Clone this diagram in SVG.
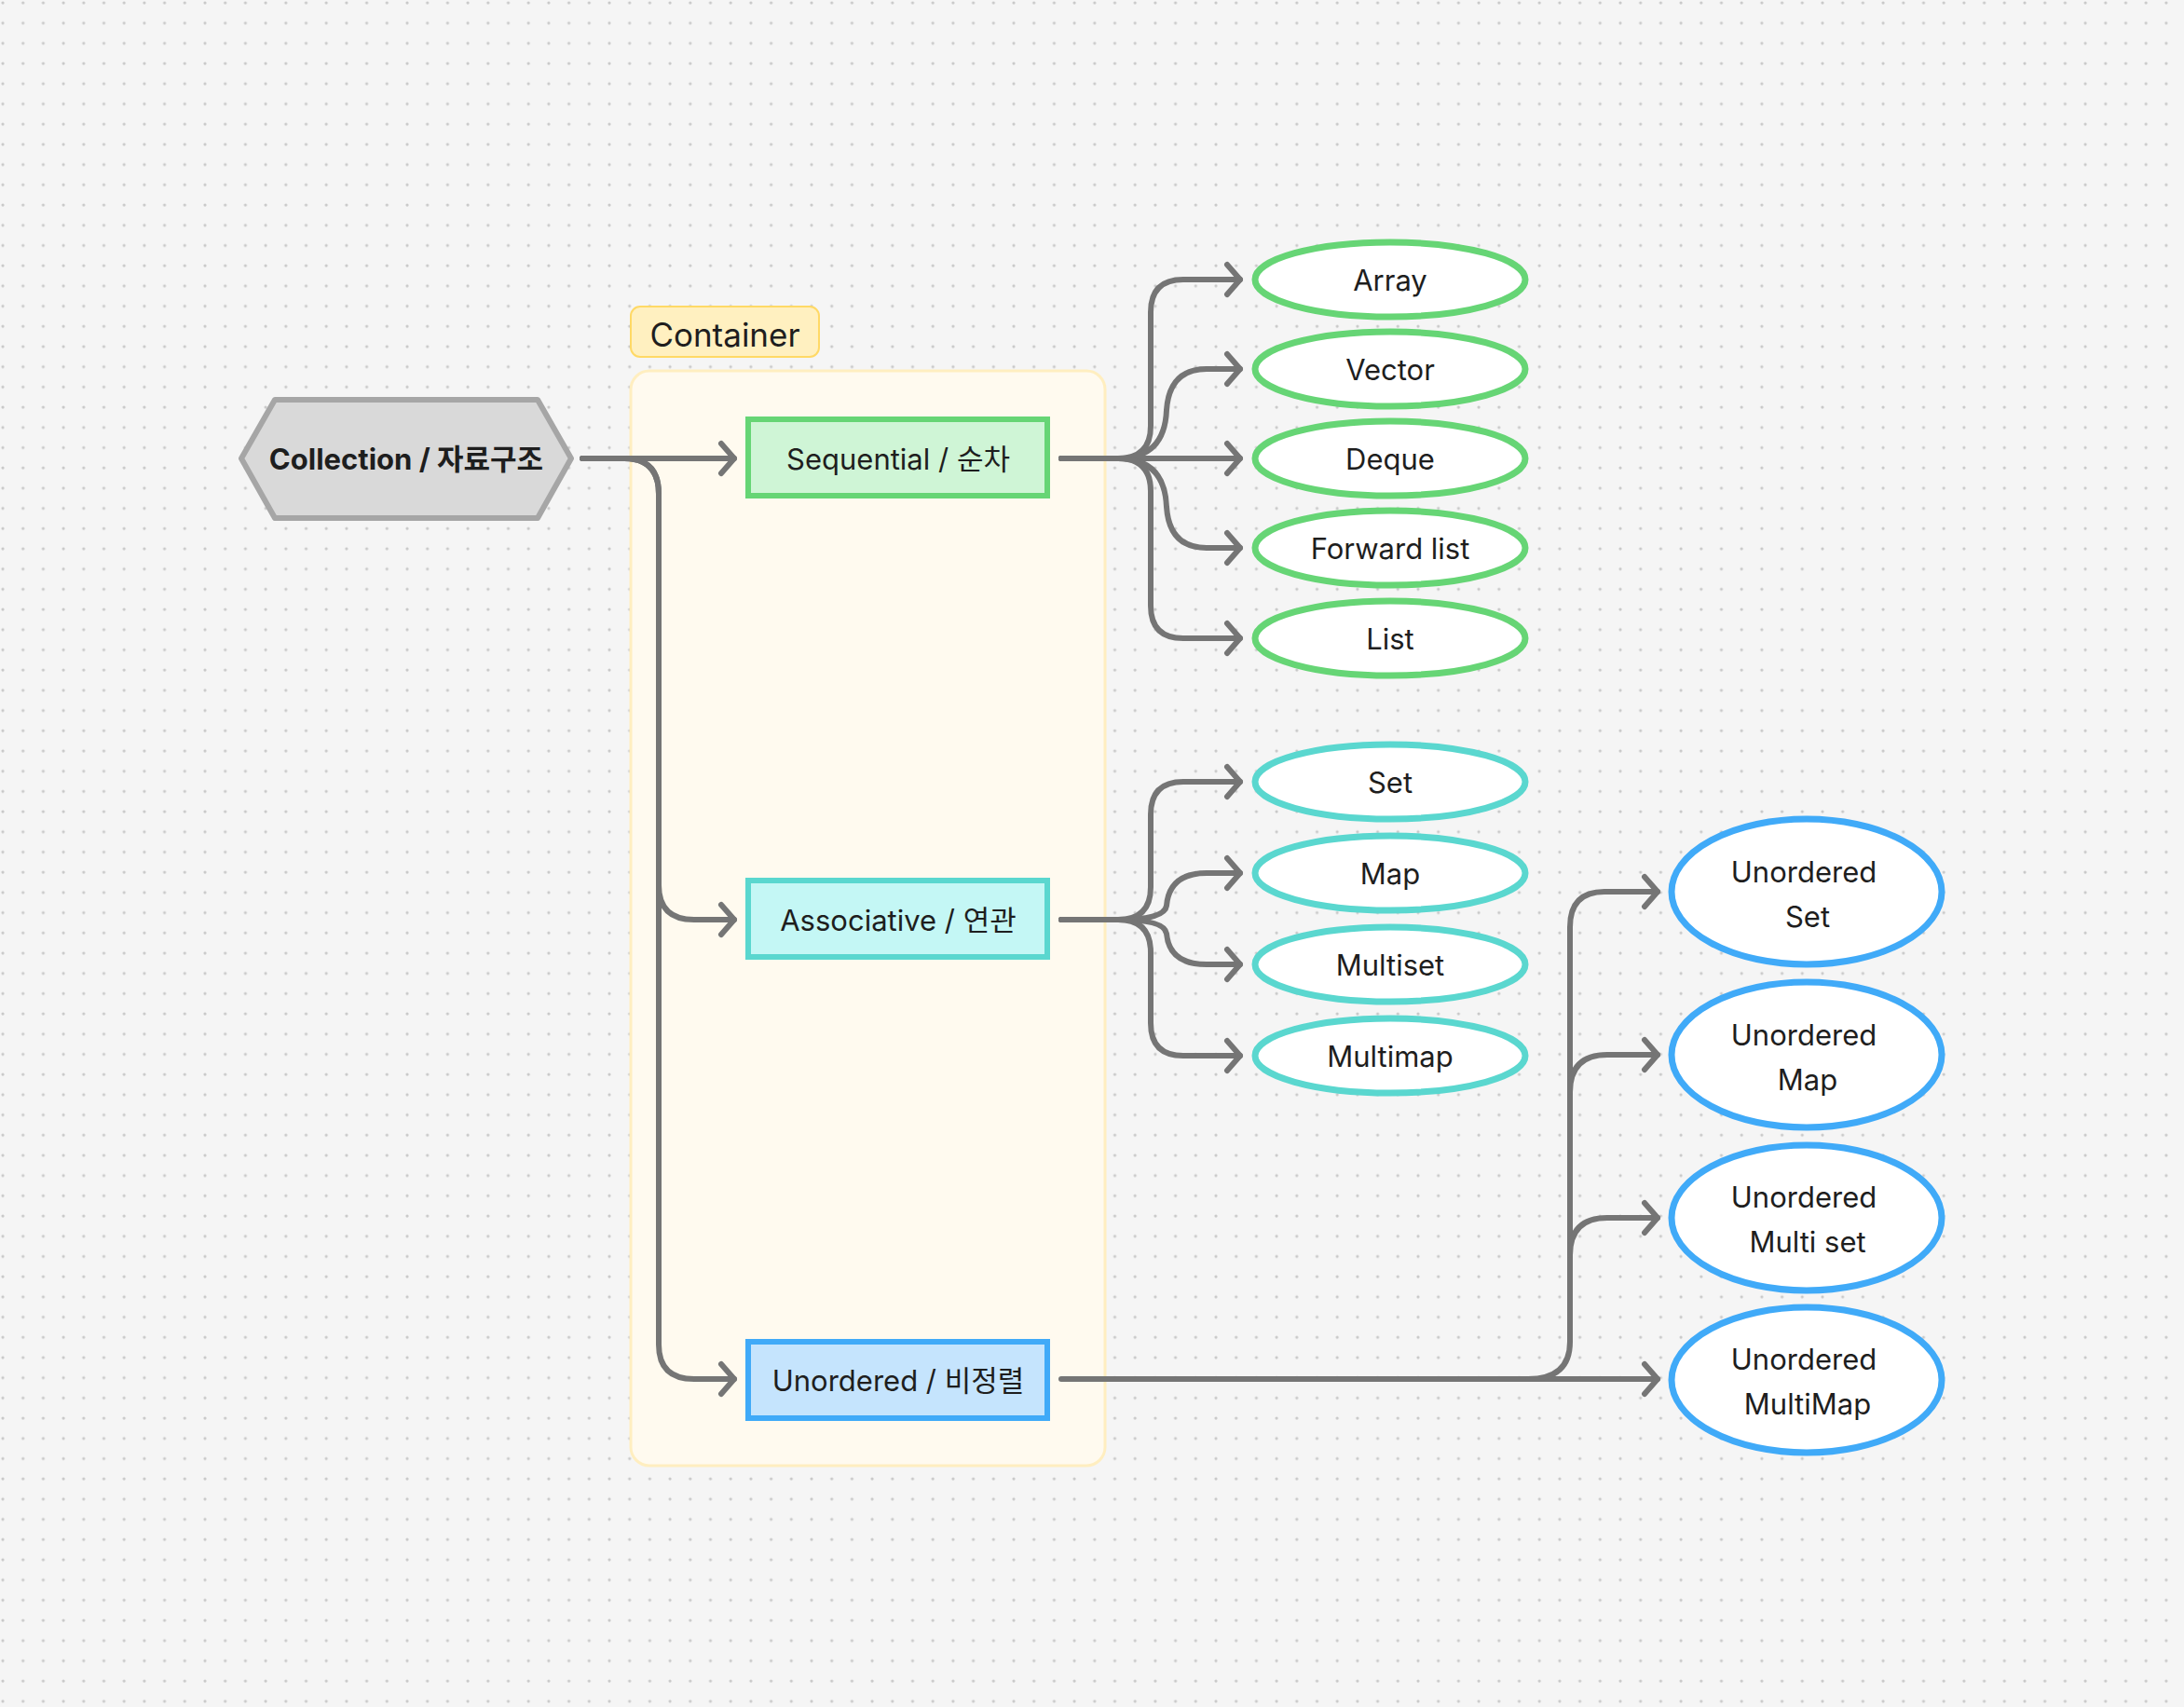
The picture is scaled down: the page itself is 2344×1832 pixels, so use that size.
<svg xmlns="http://www.w3.org/2000/svg" width="2344" height="1832" viewBox="0 0 2344 1832">
<style>
text{font-family:Inter,"Noto Sans","Noto Sans CJK KR",sans-serif;fill:#1e1e1e;text-anchor:middle;dominant-baseline:central}
.c{fill:none;stroke:#757575;stroke-width:6;stroke-linecap:round;stroke-linejoin:round}
.g{fill:#fff;stroke:#66d575;stroke-width:7}
.t{fill:#fff;stroke:#5ad7cf;stroke-width:7}
.b{fill:#fff;stroke:#40aaf8;stroke-width:7}
.lt{font-size:31px}
</style>
<defs>
<pattern id="dots" width="21.7" height="21.7" patternUnits="userSpaceOnUse"><circle cx="3" cy="3" r="1.6" fill="#c8c8c8"/></pattern>
<marker id="ar" markerUnits="userSpaceOnUse" markerWidth="40" markerHeight="40" viewBox="-20 -20 40 40" refX="0" refY="0" orient="auto"><path d="M-14,-16 L0,0 L-14,16" fill="none" stroke="#757575" stroke-width="6" stroke-linecap="round" stroke-linejoin="round"/></marker>
</defs>
<rect width="2344" height="1832" fill="#f5f5f5"/>
<rect width="2344" height="1832" fill="url(#dots)"/>
<g id="container-frame"><rect x="677" y="398" width="509" height="1175" rx="20" fill="#fffaef" stroke="#ffeec0" stroke-width="3"/></g>
<g id="container-label"><rect x="677" y="329" width="202" height="54" rx="10" fill="#fff0c0" stroke="#ffd966" stroke-width="2"/><text x="778" y="359" font-size="35">Container</text></g>
<g id="connectors">
<path class="c" marker-end="url(#ar)" d="M625,492 H788"/>
<path class="c" marker-end="url(#ar)" d="M625,492 H670 Q707,492 707,530 V950 Q707,987 745,987 H788"/>
<path class="c" marker-end="url(#ar)" d="M625,492 H670 Q707,492 707,530 V1443 Q707,1480 745,1480 H788"/>
<path class="c" marker-end="url(#ar)" d="M1139,492 H1200 Q1235,492 1235,457 V335 Q1235,300 1270,300 H1331"/>
<path class="c" marker-end="url(#ar)" d="M1139,492 H1200 Q1250,492 1252,440 Q1255,396 1295,396 H1331"/>
<path class="c" marker-end="url(#ar)" d="M1139,492 H1331"/>
<path class="c" marker-end="url(#ar)" d="M1139,492 H1200 Q1250,492 1252,544 Q1255,588 1295,588 H1331"/>
<path class="c" marker-end="url(#ar)" d="M1139,492 H1200 Q1235,492 1235,527 V650 Q1235,685 1270,685 H1331"/>
<path class="c" marker-end="url(#ar)" d="M1139,987 H1200 Q1235,987 1235,952 V874 Q1235,839 1270,839 H1331"/>
<path class="c" marker-end="url(#ar)" d="M1139,987 H1200 Q1250,987 1252,972 Q1255,937 1295,937 H1331"/>
<path class="c" marker-end="url(#ar)" d="M1139,987 H1200 Q1250,987 1252,1002 Q1255,1035 1295,1035 H1331"/>
<path class="c" marker-end="url(#ar)" d="M1139,987 H1200 Q1235,987 1235,1022 V1098 Q1235,1133 1270,1133 H1331"/>
<path class="c" marker-end="url(#ar)" d="M1139,1480 H1779"/>
<path class="c" marker-end="url(#ar)" d="M1640,1480 Q1685,1480 1685,1440 V995 Q1685,957 1722,957 H1779"/>
<path class="c" marker-end="url(#ar)" d="M1685,1172 Q1685,1132 1725,1132 H1779"/>
<path class="c" marker-end="url(#ar)" d="M1685,1347 Q1685,1307 1725,1307 H1779"/>
</g>
<g id="collection"><polygon points="295,429 577,429 613,492 577,556 295,556 259,492" fill="#d9d9d9" stroke="#a6a6a6" stroke-width="6" stroke-linejoin="round"/><text x="436" y="492" font-size="31" font-weight="bold">Collection / 자료구조</text></g>
<g id="sequential"><rect x="803" y="450" width="321" height="82" fill="#cff5d6" stroke="#66d575" stroke-width="6"/><text x="964" y="492" class="lt">Sequential / 순차</text></g>
<g id="associative"><rect x="803" y="945" width="321" height="82" fill="#c4f7f5" stroke="#5ad7cf" stroke-width="6"/><text x="964" y="987" class="lt">Associative / 연관</text></g>
<g id="unordered"><rect x="803" y="1440" width="321" height="82" fill="#c5e4fd" stroke="#40aaf8" stroke-width="6"/><text x="964" y="1481" class="lt">Unordered / 비정렬</text></g>
<g id="array"><ellipse class="g" cx="1492" cy="300" rx="145" ry="40"/><text x="1492" y="300" class="lt">Array</text></g>
<g id="vector"><ellipse class="g" cx="1492" cy="396" rx="145" ry="40"/><text x="1492" y="396" class="lt">Vector</text></g>
<g id="deque"><ellipse class="g" cx="1492" cy="492" rx="145" ry="40"/><text x="1492" y="492" class="lt">Deque</text></g>
<g id="forward-list"><ellipse class="g" cx="1492" cy="588" rx="145" ry="40"/><text x="1492" y="588" class="lt">Forward list</text></g>
<g id="list"><ellipse class="g" cx="1492" cy="685" rx="145" ry="40"/><text x="1492" y="685" class="lt">List</text></g>
<g id="set"><ellipse class="t" cx="1492" cy="839" rx="145" ry="40"/><text x="1492" y="839" class="lt">Set</text></g>
<g id="map"><ellipse class="t" cx="1492" cy="937" rx="145" ry="40"/><text x="1492" y="937" class="lt">Map</text></g>
<g id="multiset"><ellipse class="t" cx="1492" cy="1035" rx="145" ry="40"/><text x="1492" y="1035" class="lt">Multiset</text></g>
<g id="multimap"><ellipse class="t" cx="1492" cy="1133" rx="145" ry="40"/><text x="1492" y="1133" class="lt">Multimap</text></g>
<g id="uset"><ellipse class="b" cx="1939" cy="957" rx="145" ry="78"/><text x="1936" y="935" class="lt">Unordered</text><text x="1940" y="983" class="lt">Set</text></g>
<g id="umap"><ellipse class="b" cx="1939" cy="1132" rx="145" ry="78"/><text x="1936" y="1110" class="lt">Unordered</text><text x="1940" y="1158" class="lt">Map</text></g>
<g id="umultiset"><ellipse class="b" cx="1939" cy="1307" rx="145" ry="78"/><text x="1936" y="1284" class="lt">Unordered</text><text x="1940" y="1332" class="lt">Multi set</text></g>
<g id="umultimap"><ellipse class="b" cx="1939" cy="1481" rx="145" ry="78"/><text x="1936" y="1458" class="lt">Unordered</text><text x="1940" y="1506" class="lt">MultiMap</text></g>
</svg>
